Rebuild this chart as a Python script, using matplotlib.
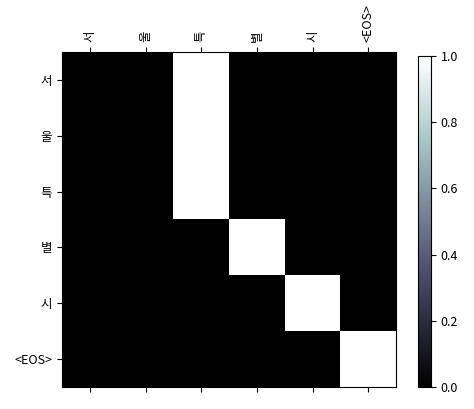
import matplotlib
matplotlib.use("Agg")
import matplotlib.pyplot as plt
import numpy as np

plt.rcParams['font.family'] = ['Noto Sans CJK KR', 'DejaVu Sans']

input_tokens = ['서', '울', '특', '별', '시', '<EOS>']
output_tokens = ['서', '울', '특', '별', '시', '<EOS>']
attention = np.array([
    [0, 0, 1, 0, 0, 0],
    [0, 0, 1, 0, 0, 0],
    [0, 0, 1, 0, 0, 0],
    [0, 0, 0, 1, 0, 0],
    [0, 0, 0, 0, 1, 0],
    [0, 0, 0, 0, 0, 1],
], dtype=float)

fig = plt.figure(figsize=(4.74, 4.09), dpi=100)
ax = fig.add_axes([62/474, 1 - 387/409, (396-62)/474, (387-52)/409])
im = ax.matshow(attention, cmap='bone', vmin=0, vmax=1, aspect='auto')
ax.set_xticks(range(len(input_tokens)))
ax.set_xticklabels(input_tokens, rotation=90, fontsize=9)
ax.set_yticks(range(len(output_tokens)))
ax.set_yticklabels(output_tokens, fontsize=9)
ax.tick_params(axis='x', bottom=True, top=True, labelbottom=False, labeltop=True)

cax = fig.add_axes([418/474, 1 - 387/409, 13/474, (387-56)/409])
cb = fig.colorbar(im, cax=cax)
cb.ax.tick_params(labelsize=9)

fig.savefig('out.png', dpi=100)
